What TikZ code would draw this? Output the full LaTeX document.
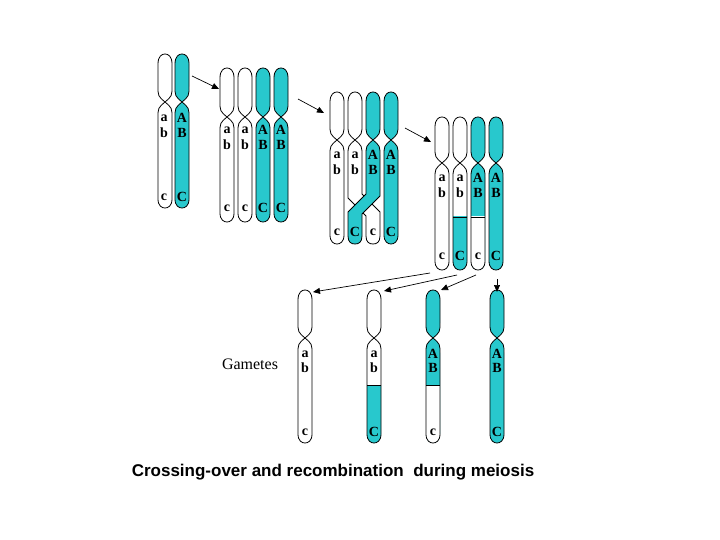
\documentclass[tikz,border=0pt]{standalone}
\usepackage{fontspec}
\setmainfont{Liberation Serif}
\newfontfamily\arialf{Liberation Sans}
\usetikzlibrary{arrows.meta}
\definecolor{chc}{RGB}{40,200,205}
\newcommand\lowp[4]{\path[#4] (#1,#2) .. controls ({#1-7},{#2+6}) .. ({#1-7},{#2+16}) -- ({#1-7},{#3-9}) .. controls ({#1-7},{#3-2}) and ({#1-3},#3) .. (#1,#3) .. controls ({#1+3},#3) and ({#1+7},{#3-2}) .. ({#1+7},{#3-9}) -- ({#1+7},{#2+16}) .. controls ({#1+7},{#2+6}) .. cycle;}
\newcommand\upp[4]{\filldraw[fill=#4] (#1,#3) .. controls ({#1-7},{#3-6}) .. ({#1-7},{#3-16}) -- ({#1-7},{#2+10}) .. controls ({#1-7},{#2+2}) and ({#1-3},#2) .. (#1,#2) .. controls ({#1+3},#2) and ({#1+7},{#2+2}) .. ({#1+7},{#2+10}) -- ({#1+7},{#3-16}) .. controls ({#1+7},{#3-6}) .. cycle;}
\newcommand\chr[8]{%
 \upp{#1}{#2}{#3}{#5}
 \lowp{#1}{#3}{#4}{fill=#6}
 \ifdim #8pt<#4pt
 \begin{scope}\clip ({#1-9},#8) rectangle ({#1+9},{#4+2}); \lowp{#1}{#3}{#4}{fill=#7} \end{scope}
 \draw ({#1-7},#8) -- ({#1+7},#8);
 \fi
 \lowp{#1}{#3}{#4}{draw}}
\tikzset{lab/.style={font=\fontsize{14}{14}\selectfont\bfseries,inner sep=0pt},
 arr/.style={-{Triangle[length=7pt,width=6pt]},line width=0.7pt}}
\begin{document}
\begin{tikzpicture}[x=1pt,y=-1pt,line width=0.8pt]
\useasboundingbox (0,0) rectangle (720,540);
% group 1
\chr{165}{54}{102}{208}{white}{white}{white}{208}
\chr{182}{54}{102}{208}{chc}{chc}{chc}{208}
\node[lab] (g1a) at (164,118) {a}; \node[lab] (g1b) at (164,133) {b}; \node[lab] (g1c) at (164,197) {c};
\node[lab] (g1A) at (182,118) {A}; \node[lab] (g1B) at (182,133) {B}; \node[lab] (g1C) at (182,197) {C};
% group 2
\foreach \x/\c in {227/white,245/white,263/chc,281/chc}{\chr{\x}{68}{117}{222}{\c}{\c}{\c}{222}}
\foreach \x/\p/\q/\r [count=\i] in {227/a/b/c,245/a/b/c,263/A/B/C,281/A/B/C}{
 \node[lab] (g2a\i) at (\x,130) {\p}; \node[lab] (g2b\i) at (\x,145) {\q}; \node[lab] (g2c\i) at (\x,208) {\r};}
% group 3
\chr{337}{92}{140}{244}{white}{white}{white}{244}
\chr{391}{92}{140}{244}{chc}{chc}{chc}{244}
\upp{355}{92}{140}{white}
\upp{373}{92}{140}{chc}
\filldraw[fill=white] (355,140) .. controls (348,146) .. (348,156) -- (348,198) -- (366,216) -- (366,236) .. controls (366,242) and (369,244) .. (373,244) .. controls (377,244) and (380,242) .. (380,236) -- (380,212) -- (362,194) -- (362,156) .. controls (362,146) .. cycle;
\filldraw[fill=chc] (373,140) .. controls (380,146) .. (380,156) -- (380,196) -- (362,214) -- (362,236) .. controls (362,242) and (359,244) .. (355,244) .. controls (351,244) and (348,242) .. (348,236) -- (348,212) -- (366,194) -- (366,156) .. controls (366,146) .. cycle;
\foreach \x/\p/\q/\r [count=\i] in {337/a/b/c,355/a/b/C,373/A/B/c,391/A/B/C}{
 \node[lab] (g3a\i) at (\x,155) {\p}; \node[lab] (g3b\i) at (\x,170) {\q}; \node[lab] (g3c\i) at (\x,232) {\r};}
% group 4
\chr{442}{117}{163}{270}{white}{white}{white}{270}
\chr{460}{117}{163}{270}{white}{white}{chc}{217}
\chr{478}{117}{163}{270}{chc}{chc}{white}{217}
\chr{496}{117}{163}{270}{chc}{chc}{chc}{270}
\foreach \x/\p/\q/\r [count=\i] in {442/a/b/c,460/a/b/C,478/A/B/c,496/A/B/C}{
 \node[lab] (g4a\i) at (\x,178) {\p}; \node[lab] (g4b\i) at (\x,193) {\q}; \node[lab] (g4c\i) at (\x,256) {\r};}
% gametes
\chr{305}{290}{338}{443}{white}{white}{white}{443}
\chr{374}{290}{338}{443}{white}{white}{chc}{385}
\chr{433}{290}{338}{443}{chc}{chc}{white}{385}
\chr{497}{290}{338}{443}{chc}{chc}{chc}{443}
\foreach \x/\p/\q/\r [count=\i] in {305/a/b/c,374/a/b/C,433/A/B/c,497/A/B/C}{
 \node[lab] (ga\i) at (\x,354) {\p}; \node[lab] (gb\i) at (\x,368) {\q}; \node[lab] (gc\i) at (\x,432) {\r};}
\node[font=\fontsize{16}{16}\selectfont] (gam) at (250,364) {Gametes};
% arrows
\coordinate (a1s) at (192,76); \coordinate (a1e) at (219,89);
\coordinate (a2s) at (298,99); \coordinate (a2e) at (324,113);
\coordinate (a3s) at (405,128); \coordinate (a3e) at (431,142);
\draw[arr] (a1s) -- (a1e); \draw[arr] (a2s) -- (a2e); \draw[arr] (a3s) -- (a3e);
\coordinate (d1s) at (430,273); \coordinate (d1e) at (313,292);
\coordinate (d2s) at (457,275); \coordinate (d2e) at (384,291);
\coordinate (d3s) at (476,275); \coordinate (d3e) at (441,290);
\coordinate (d4s) at (497,279); \coordinate (d4e) at (497,292);
\foreach \i in {1,...,4}{\draw[arr] (d\i s) -- (d\i e);}
\node[font=\arialf\bfseries\fontsize{17}{17}\selectfont] (title) at (333,472) {Crossing-over and recombination\ \ during meiosis};
\end{tikzpicture}
\end{document}
